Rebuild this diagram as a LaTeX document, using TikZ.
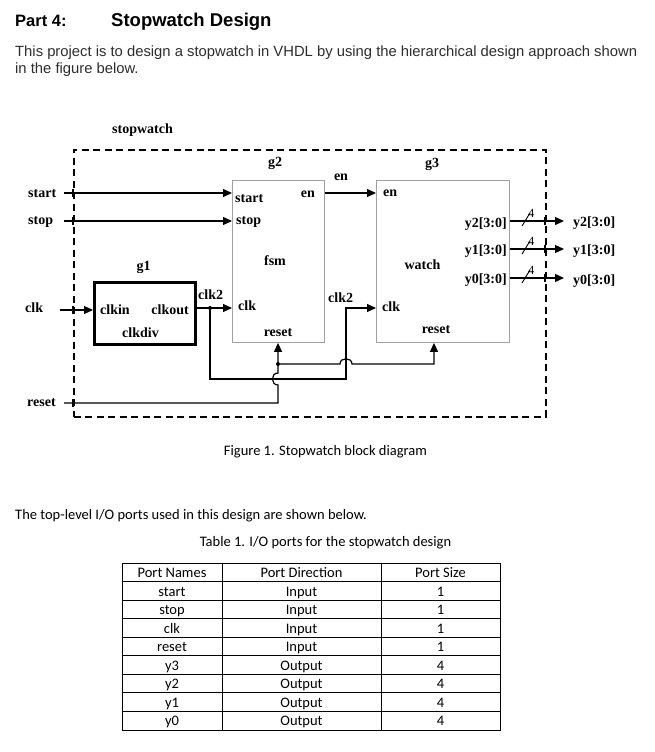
\documentclass[tikz,border=0pt]{standalone}
\usepackage{fontspec}
\setmainfont{Liberation Serif}
\newfontfamily\arialf{Liberation Sans}
\newfontfamily\calif{Carlito}
\usetikzlibrary{arrows.meta}
\definecolor{paragraphgray}{RGB}{45,45,45}
\definecolor{boxgray}{RGB}{160,160,160}
\begin{document}
\begin{tikzpicture}[x=1pt,y=-1pt,
  lbl/.style={font=\bfseries\fontsize{14}{14}\selectfont, inner sep=0pt},
  four/.style={font=\fontsize{12.5}{12.5}\selectfont, inner sep=0pt},
  wire/.style={line width=1.2pt},
  arr/.style={wire,-{Triangle[length=9pt,width=8pt]}},
  blk/.style={draw=boxgray, line width=0.9pt, inner sep=0pt, anchor=north west},
  cal/.style={font=\calif\fontsize{14.5}{14.5}\selectfont, inner sep=0pt},
  para/.style={font=\arialf\fontsize{14.8}{14.8}\selectfont, inner sep=0pt, anchor=base west, text=paragraphgray},
  dot/.style={circle, fill=black, inner sep=0pt, minimum size=4pt},
  tick/.style={line width=1.6pt},
  slash/.style={line width=0.9pt},
  tbl/.style={line width=1pt}
]
\useasboundingbox (0,0) rectangle (654,752);

% ---------- header ----------
\node[anchor=base west, inner sep=0pt, font=\arialf\bfseries\fontsize{16.5}{16.5}\selectfont] (part) at (15,26.5) {Part 4:};
\node[anchor=base west, inner sep=0pt, font=\arialf\bfseries\fontsize{18.5}{18.5}\selectfont] (title) at (111,26.5) {Stopwatch Design};
\node[para] (p1) at (15,57) {This project is to design a stopwatch in VHDL by using the hierarchical design approach shown};
\node[para] (p2) at (15,73.5) {in the figure below.};

% ---------- diagram ----------
\node[lbl, anchor=base west] (swl) at (112,133) {stopwatch};
\node[draw, line width=1.6pt, dash pattern=on 7pt off 4.5pt, inner sep=0pt, anchor=north west,
      minimum width=472pt, minimum height=267pt] (sw) at (73,149) {};

\node[blk, minimum width=92pt, minimum height=162pt] (fsm) at (232,180) {};
\node[blk, minimum width=133pt, minimum height=162pt] (watch) at (376,180) {};
\node[draw=black, line width=2.6pt, inner sep=0pt, anchor=north west,
      minimum width=101pt, minimum height=62pt] (clkdiv) at (93,281) {};

% block labels
\node[lbl, anchor=base] (g1) at (143.5,270) {g1};
\node[lbl, anchor=base] (g2) at (275,166) {g2};
\node[lbl, anchor=base] (g3) at (432,167) {g3};
\node[lbl, anchor=base] (enlbl) at (341,180) {en};

% fsm ports
\node[lbl, anchor=base west] (fstart) at (235,202) {start};
\node[lbl, anchor=base west] (fstop) at (236,224) {stop};
\node[lbl, anchor=base east] (fen) at (315,197) {en};
\node[lbl, anchor=base] (fname) at (275,265) {fsm};
\node[lbl, anchor=base west] (fclk) at (238,310) {clk};
\node[lbl, anchor=base] (freset) at (278,336) {reset};

% watch ports
\node[lbl, anchor=base west] (wen) at (383,196) {en};
\node[lbl, anchor=base east] (wy2) at (507,227) {y2[3:0]};
\node[lbl, anchor=base east] (wy1) at (507,254) {y1[3:0]};
\node[lbl, anchor=base east] (wy0) at (507,283) {y0[3:0]};
\node[lbl, anchor=base] (wname) at (422.5,269) {watch};
\node[lbl, anchor=base west] (wclk) at (382,311) {clk};
\node[lbl, anchor=base] (wreset) at (436,333) {reset};

% clkdiv ports
\node[lbl, anchor=base west] (cin) at (100,314) {clkin};
\node[lbl, anchor=base east] (cout) at (189,314) {clkout};
\node[lbl, anchor=base] (cname) at (140.5,337) {clkdiv};

% external labels
\node[lbl, anchor=base west] (lstart) at (28,197) {start};
\node[lbl, anchor=base west] (lstop) at (28,224) {stop};
\node[lbl, anchor=base west] (lclk) at (25,312) {clk};
\node[lbl, anchor=base west] (lreset) at (27,406) {reset};
\node[lbl, anchor=base west] (oy2) at (573,226) {y2[3:0]};
\node[lbl, anchor=base west] (oy1) at (573,254) {y1[3:0]};
\node[lbl, anchor=base west] (oy0) at (573,284) {y0[3:0]};
\node[lbl, anchor=base west] (c2a) at (198,299) {clk2};
\node[lbl, anchor=base west] (c2b) at (328,302) {clk2};

% input wire start points
\coordinate (istart) at (64,193);
\coordinate (istop) at (64,221);
\coordinate (iclk) at (60,310);
\coordinate (ireset) at (64,403);

\draw[arr] (istart) -- (fsm.west |- istart);
\draw[arr] (istop) -- (fsm.west |- istop);
\draw[arr] (iclk) -- (clkdiv.west |- iclk);
\draw[arr] (fsm.east |- istart) -- (watch.west |- istart);

% crossing ticks on the dashed border
\foreach \yy in {193,221,310,403} { \draw[tick] (73,\yy-4) -- (73,\yy+4); }
\foreach \yy in {221,249,278} { \draw[tick] (545,\yy-4) -- (545,\yy+4); }

% outputs
\coordinate (oe2) at (564,221);
\coordinate (oe1) at (564,249);
\coordinate (oe0) at (564,278);
\draw[arr] (watch.east |- oe2) -- (oe2);
\draw[arr] (watch.east |- oe1) -- (oe1);
\draw[arr] (watch.east |- oe0) -- (oe0);
\foreach \yy/\nm in {221/a,249/b,278/c} {
  \draw[slash] (522,\yy+5) -- (530,\yy-8);
  \node[four, anchor=base west] (four\nm) at (528,\yy-4) {4};
}

% clk2 network
\node[dot] (d1) at (210,308) {};
\draw[arr] (clkdiv.east |- d1) -- (fsm.west |- d1);
\coordinate (c2turn) at (346,379);
\coordinate (c2in) at (346,308);
\draw[arr] (d1) -- (d1 |- c2turn) -- (c2turn) -- (c2in) -- (watch.west |- c2in);

% reset network
\node[dot] (d2) at (278,364) {};
\draw[arr] (ireset) -- (278,403) -- (278,385)
   .. controls (270.5,385) and (270.5,373) .. (278,373) -- (fsm.south -| d2);
\coordinate (rw) at (434,364);
\draw[arr] (d2) -- (340,364) .. controls (340,357) and (352,357) .. (352,364)
   -- (rw) -- (watch.south -| rw);

% ---------- captions ----------
\node[cal, anchor=base] (cap1) at (325.5,455.5) {Figure 1. Stopwatch block diagram};
\node[cal, anchor=base west] (intro) at (15,519) {The top-level I/O ports used in this design are shown below.};
\node[cal, anchor=base] (cap2) at (325.5,546.7) {Table 1. I/O ports for the stopwatch design};

% ---------- table ----------
\def\rh{18.56}
\draw[tbl] (122,563) rectangle (500,730);
\foreach \i in {1,...,8} { \draw[tbl] (122,563+\i*\rh) -- (500,563+\i*\rh); }
\draw[tbl] (222,563) -- (222,730);
\draw[tbl] (381,563) -- (381,730);
\foreach \i/\a/\b/\c in {0/Port Names/Port Direction/Port Size,
    1/start/Input/1, 2/stop/Input/1, 3/clk/Input/1, 4/reset/Input/1,
    5/y3/Output/4, 6/y2/Output/4, 7/y1/Output/4, 8/y0/Output/4} {
  \node[cal, anchor=base] (ta\i) at (172,563+\i*\rh+14.5) {\a};
  \node[cal, anchor=base] (tb\i) at (301.5,563+\i*\rh+14.5) {\b};
  \node[cal, anchor=base] (tc\i) at (440.5,563+\i*\rh+14.5) {\c};
}
\end{tikzpicture}
\end{document}
